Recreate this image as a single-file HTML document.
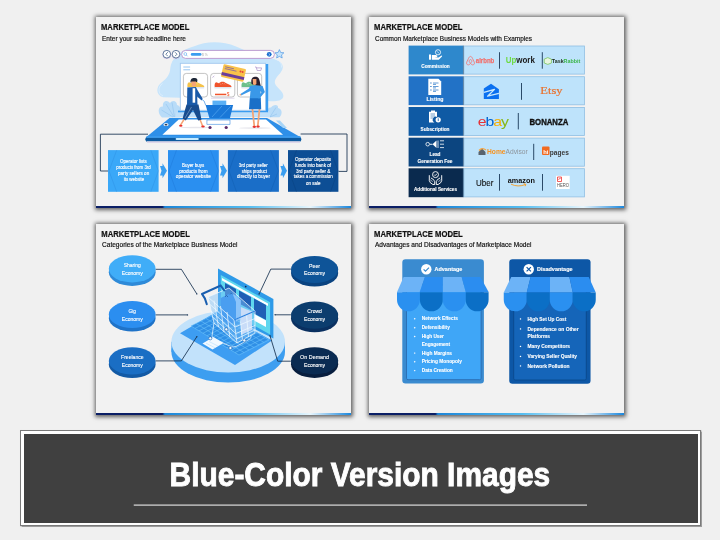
<!DOCTYPE html>
<html><head><meta charset="utf-8">
<style>
html,body{margin:0;padding:0;}
body{width:720px;height:540px;background:#f0f0f0;position:relative;overflow:hidden;font-family:"Liberation Sans",sans-serif;}
.slide{position:absolute;width:255px;height:191px;background:#f2f2f2;box-shadow:0 0 4px 1.5px rgba(0,0,0,0.6);}
#s1{left:96px;top:17px;}
#s2{left:369px;top:17px;}
#s3{left:96px;top:224px;}
#s4{left:369px;top:224px;}
.bar{position:absolute;left:0;bottom:0;height:2px;width:100%;background:linear-gradient(to right,#0b1f66 0%,#0b1f66 26%,#1d86d8 27%,#55bdf0 60%,#e8f6fd 84%,#1a86dc 100%);}
#banner{position:absolute;left:20px;top:430px;width:679px;height:94px;border:1px solid #7a7a7a;background:#fff;box-shadow:0 0 1px 0.5px rgba(0,0,0,0.35);}
#banner .in{position:absolute;left:2.5px;top:2.5px;right:2.5px;bottom:2.5px;background:#404040;}
svg{position:absolute;left:0;top:0;will-change:transform;}
</style></head>
<body>
<div class="slide" id="s1"><div class="bar"></div></div>
<div class="slide" id="s2"><div class="bar"></div></div>
<div class="slide" id="s3"><div class="bar"></div></div>
<div class="slide" id="s4"><div class="bar"></div></div>
<div id="banner"><div class="in"></div></div>
<svg width="720" height="540" viewBox="0 0 720 540" font-family="Liberation Sans, sans-serif">
<!-- titles -->
<g fill="#111" font-weight="bold" font-size="8.2" stroke="#111" stroke-width="0.2">
<text x="101" y="30" textLength="88.4" lengthAdjust="spacingAndGlyphs">MARKETPLACE MODEL</text>
<text x="374" y="30" textLength="88.5" lengthAdjust="spacingAndGlyphs">MARKETPLACE MODEL</text>
<text x="101.3" y="237.2" textLength="88.6" lengthAdjust="spacingAndGlyphs">MARKETPLACE MODEL</text>
<text x="374" y="237" textLength="88.8" lengthAdjust="spacingAndGlyphs">MARKETPLACE MODEL</text>
</g>
<g fill="#111" font-size="6.9" stroke="#111" stroke-width="0.18">
<text x="102" y="40.7" textLength="84" lengthAdjust="spacingAndGlyphs">Enter your sub headline here</text>
<text x="375" y="40.5" textLength="157" lengthAdjust="spacingAndGlyphs">Common Marketplace Business Models with Examples</text>
<text x="102" y="247.2" textLength="135.5" lengthAdjust="spacingAndGlyphs">Categories of the Marketplace Business Model</text>
<text x="375" y="247.2" textLength="156.5" lengthAdjust="spacingAndGlyphs">Advantages and Disadvantages of Marketplace Model</text>
</g>
<!-- SLIDE 2 TABLE -->
<g id="table">
<rect x="408.6" y="45.6" width="54.6" height="28.8" fill="#2e88cc"/>
<rect x="408.6" y="76.3" width="54.6" height="28.8" fill="#2272c6"/>
<rect x="408.6" y="107" width="54.6" height="28.8" fill="#0f5aa4"/>
<rect x="408.6" y="137.7" width="54.6" height="28.8" fill="#0c4580"/>
<rect x="408.6" y="168.3" width="54.6" height="28.9" fill="#0a2a4e"/>
<g fill="#bee3fb" stroke="#8fbfe3" stroke-width="0.8">
<rect x="463.9" y="46" width="120.5" height="28.1"/>
<rect x="463.9" y="76.7" width="120.5" height="28.1"/>
<rect x="463.9" y="107.4" width="120.5" height="28.1"/>
<rect x="463.9" y="138.1" width="120.5" height="28.1"/>
<rect x="463.9" y="168.7" width="120.5" height="28.2"/>
</g>
<g fill="#5f86a8">
<rect x="462.9" y="45.6" width="1" height="28.8"/>
<rect x="462.9" y="76.3" width="1" height="28.8"/>
<rect x="462.9" y="107" width="1" height="28.8"/>
<rect x="462.9" y="137.7" width="1" height="28.8"/>
<rect x="462.9" y="168.3" width="1" height="28.9"/>
</g>
<!-- left labels -->
<g fill="#fff" font-weight="bold" font-size="5.2" text-anchor="middle" stroke="#fff" stroke-width="0.12">
<text x="435.5" y="67.8" textLength="28.5" lengthAdjust="spacingAndGlyphs">Commission</text>
<text x="435" y="101.2" textLength="17" lengthAdjust="spacingAndGlyphs">Listing</text>
<text x="435" y="130.5" textLength="29" lengthAdjust="spacingAndGlyphs">Subscription</text>
<text x="435" y="156" textLength="11" lengthAdjust="spacingAndGlyphs">Lead</text>
<text x="435" y="163.2" textLength="35" lengthAdjust="spacingAndGlyphs">Generation Fee</text>
<text x="435.5" y="191.3" textLength="43" lengthAdjust="spacingAndGlyphs">Additional Services</text>
</g>
<!-- icons -->
<g fill="#fff" stroke="none">
 <!-- commission: hand + coin -->
 <rect x="429" y="54.5" width="2" height="5.2"/>
 <path d="M431.8 55 L436 55 Q438 55.5 437.2 57 L434.5 57.3 L438.5 57.5 L441.5 55.5 Q442.5 55.5 442 56.6 L438.8 59.8 L431.8 59.8 Z"/>
 <circle cx="438" cy="52.3" r="2.6" fill="none" stroke="#fff" stroke-width="0.8"/>
 <path d="M436.6 51.2 l2.8 2.2" stroke="#fff" stroke-width="0.6"/>
 <!-- listing: document -->
 <path d="M428.3 78.8 H438.5 L441.2 81.5 V95 H428.3 Z"/>
 <g stroke="#2272c6" stroke-width="0.7" fill="none">
  <path d="M430 83 h1.8 M430 86.5 h1.8 M430 90 h1.8 M433 83 h5.5 M433 86.5 h5.5 M433 90 h5.5 M433 84.4 h3 M433 87.9 h3 M433 91.4 h3"/>
 </g>
 <!-- subscription: clipboard -->
 <path d="M429 111.8 H431 V110.5 H435 V111.8 H437 V117 A3 3 0 0 0 434.5 122.5 H429 Z"/>
 <circle cx="438.2" cy="119.8" r="2.6"/>
 <rect x="437.8" y="118.3" width="0.8" height="2.8" fill="#0f5aa4"/>
 <g stroke="#0f5aa4" stroke-width="0.6"><path d="M430.5 114 h4.5 M430.5 116 h4.5 M430.5 118 h3"/></g>
 <!-- lead: funnel -->
 <circle cx="427.7" cy="144.2" r="1.8" fill="none" stroke="#fff" stroke-width="0.8"/>
 <rect x="430" y="143.8" width="2.5" height="0.9"/>
 <path d="M432.5 144.2 L436.5 140.5 V148 Z"/>
 <g stroke="#fff" stroke-width="0.8"><path d="M438 140.5 v7.5 M440 140.8 h4 M440 144.2 h4 M440 147.6 h4"/></g>
 <!-- additional services: hands with check -->
 <circle cx="435.5" cy="174.6" r="3" fill="none" stroke="#fff" stroke-width="0.9"/>
 <path d="M434.1 174.6 l1 1 l1.9 -1.9" stroke="#fff" stroke-width="0.9" fill="none"/>
 <g fill="none" stroke="#fff" stroke-width="0.95" stroke-linejoin="round">
 <path d="M429.3 175.2 V180.6 Q429.7 183 432.9 184.5 H434.7 V181.6 Q434.5 180.4 433 179.3 L430.9 177.9"/>
 <path d="M441.7 175.2 V180.6 Q441.3 183 438.1 184.5 H436.3 V181.6 Q436.5 180.4 438 179.3 L440.1 177.9"/>
 <path d="M430.2 179.8 L432.6 181.6 M440.8 179.8 L438.4 181.6" stroke-width="0.6"/>
</g>
</g>
<!-- dividers -->
<g fill="#2b4a68">
<rect x="499" y="52.2" width="1" height="16.5"/>
<rect x="541.8" y="52.2" width="1" height="16.5"/>
<rect x="521" y="83" width="1" height="16.8"/>
<rect x="517.8" y="113" width="1" height="16.4"/>
<rect x="533.2" y="143.8" width="1" height="16.2"/>
<rect x="499" y="174" width="1" height="16.7"/>
<rect x="542" y="174" width="1" height="16.7"/>
</g>
<!-- row1 logos -->
<g fill="none" stroke="#f2716e" stroke-width="0.8">
 <path d="M470.5 56.4 C469.6 56.4 469.1 57.2 468.4 58.6 L466.8 62 C466.1 63.6 466.9 64.9 468.2 64.9 C469.2 64.9 470 64.1 470.5 63.3 C471 64.1 471.8 64.9 472.8 64.9 C474.1 64.9 474.9 63.6 474.2 62 L472.6 58.6 C471.9 57.2 471.4 56.4 470.5 56.4 Z"/>
 <path d="M470.5 63.3 C469.3 62 469 61.3 469.2 60.6 C469.4 59.9 470 59.6 470.5 59.6 C471 59.6 471.6 59.9 471.8 60.6 C472 61.3 471.7 62 470.5 63.3 Z"/>
</g>
<text x="475.8" y="63.2" fill="#f2716e" stroke="#f2716e" stroke-width="0.25" font-weight="bold" font-size="7" textLength="18.5" lengthAdjust="spacingAndGlyphs">airbnb</text>
<text x="505.7" y="63" font-weight="bold" font-size="8.6" textLength="29.2" lengthAdjust="spacingAndGlyphs"><tspan fill="#6fda44">Up</tspan><tspan fill="#1a1a1a">work</tspan></text>
<g>
 <path d="M547.8 57.6 L551.4 59.2 V63 L547.8 64.4 L544.2 63 V59.2 Z" fill="#e8f5e0" stroke="#6cbf4a" stroke-width="0.7"/>
</g>
<text x="551.8" y="62.7" font-weight="bold" font-size="5.4" textLength="28.5" lengthAdjust="spacingAndGlyphs"><tspan fill="#1a2a1a">Task</tspan><tspan fill="#3cb54a">Rabbit</tspan></text>
<!-- row2 logos -->
<path d="M483.8 88.6 L491 83.8 L498.9 89.3 V98.9 H483.8 Z" fill="#0a70f0"/>
<path d="M483.8 92.3 L494.5 89.4 L487.6 96.2 L498.9 93.3" fill="none" stroke="#c8e8fc" stroke-width="1.3" stroke-linejoin="round"/>
<text x="540.3" y="94.3" fill="#e9722e" stroke="#e9722e" stroke-width="0.2" font-family="Liberation Serif, serif" font-size="11" textLength="22.2" lengthAdjust="spacingAndGlyphs">Etsy</text>
<!-- row3 logos -->
<text x="477.7" y="125.5" font-size="12" font-weight="normal" textLength="30.1" lengthAdjust="spacingAndGlyphs" letter-spacing="-0.8"><tspan fill="#e53238">e</tspan><tspan fill="#0064d2">b</tspan><tspan fill="#f5af02">a</tspan><tspan fill="#86b817">y</tspan></text>
<text x="529.5" y="124.6" fill="#111" stroke="#111" stroke-width="0.35" font-weight="bold" font-size="8.4" textLength="38.8" lengthAdjust="spacingAndGlyphs">BONANZA</text>
<!-- row4 logos -->
<path d="M478.5 152 L482 148.5 L485.5 152 V155 H478.5 Z" fill="#58636e"/>
<path d="M479 150.5 Q482 147 486 150" fill="none" stroke="#f7a33c" stroke-width="1.2"/>
<text x="487" y="154" font-weight="bold" font-size="6.6" textLength="40.8" lengthAdjust="spacingAndGlyphs"><tspan fill="#f7921e">Home</tspan><tspan fill="#8d959c" font-weight="normal">Advisor</tspan></text>
<rect x="542" y="146.5" width="7.5" height="8.5" rx="1" fill="#f26b21"/>
<text x="543.2" y="153.5" fill="#fff" font-weight="bold" font-size="6" textLength="5.2" lengthAdjust="spacingAndGlyphs">hi</text>
<text x="549.8" y="154.6" fill="#3a3a3a" font-weight="bold" font-size="7.2" textLength="19" lengthAdjust="spacingAndGlyphs">pages</text>
<!-- row5 logos -->
<text x="476" y="185.5" fill="#111" stroke="#111" stroke-width="0.12" font-size="8.4" textLength="17.4" lengthAdjust="spacingAndGlyphs">Uber</text>
<text x="507.8" y="183" fill="#111" font-weight="bold" font-size="7.3" textLength="27.1" lengthAdjust="spacingAndGlyphs">amazon</text>
<path d="M511 184.2 Q518 187.5 525.5 184.5 M523.8 183.6 L525.8 184.4 L525.2 186.2" fill="none" stroke="#f79b1e" stroke-width="0.9"/>
<rect x="556" y="175.8" width="13.7" height="13.2" fill="#fff"/>
<path d="M557.5 177 h4 v4.5 h-4 Z M558.3 179.5 l2.5 -1.5" fill="none" stroke="#e33" stroke-width="0.8"/>
<text x="557" y="186.8" fill="#555" font-size="4.6" textLength="12" lengthAdjust="spacingAndGlyphs">HERO</text>
</g>

<!-- SLIDE 4 -->
<g id="s4g">

<!-- Advantage card -->
<rect x="402.3" y="259.2" width="81.6" height="124.2" rx="3.2" fill="#3a8bd0"/>
<rect x="406.5" y="285" width="74.6" height="94.7" rx="1.5" fill="#3fa6f7" stroke="#2a6cb0" stroke-width="0.9"/>
<circle cx="426.3" cy="269.2" r="5.2" fill="#fff"/>
<path d="M423.6 269.3 l1.9 1.9 l3.5 -3.6" fill="none" stroke="#3a8bd0" stroke-width="1.2"/>
<text x="434.6" y="271.3" fill="#fff" stroke="#fff" stroke-width="0.15" font-weight="bold" font-size="5.7" textLength="27.8" lengthAdjust="spacingAndGlyphs">Advantage</text>
<!-- awning -->
<path d="M403.6 277 H424.9 L419.7 292.2 H397 Z" fill="#6cb3f7"/>
<path d="M424.9 277 H442.9 V292.2 H419.7 Z" fill="#2b8df0"/>
<path d="M442.9 277 H461.7 L465.8 292.2 H442.9 Z" fill="#6cb3f7"/>
<path d="M461.7 277 H480.4 L488.75 292.2 H465.8 Z" fill="#2b8df0"/>
<path d="M397 292.2 H419.9 V299.8 A11.45 11.45 0 0 1 397 299.8 Z" fill="#2a90f0"/>
<path d="M419.9 292.2 H442.8 V299.8 A11.45 11.45 0 0 1 419.9 299.8 Z" fill="#0b6fc6"/>
<path d="M442.8 292.2 H465.7 V299.8 A11.45 11.45 0 0 1 442.8 299.8 Z" fill="#2a90f0"/>
<path d="M465.7 292.2 H488.6 V299.8 A11.45 11.45 0 0 1 465.7 299.8 Z" fill="#0b6fc6"/>
<g fill="#fff" font-weight="bold" font-size="5.1" stroke="#fff" stroke-width="0.1">
<text x="421.7" y="320.4" textLength="36.3" lengthAdjust="spacingAndGlyphs">Network Effects</text>
<text x="421.7" y="329.3" textLength="28.1" lengthAdjust="spacingAndGlyphs">Defensibility</text>
<text x="421.7" y="338.1" textLength="22.2" lengthAdjust="spacingAndGlyphs">High User</text>
<text x="421.7" y="346" textLength="28.4" lengthAdjust="spacingAndGlyphs">Engagement</text>
<text x="421.7" y="354.7" textLength="30.3" lengthAdjust="spacingAndGlyphs">High Margins</text>
<text x="421.7" y="363.3" textLength="40.3" lengthAdjust="spacingAndGlyphs">Pricing Monopoly</text>
<text x="421.7" y="372.2" textLength="31.1" lengthAdjust="spacingAndGlyphs">Data Creation</text>
<circle cx="414.7" cy="318.8" r="0.7"/><circle cx="414.7" cy="327.7" r="0.7"/><circle cx="414.7" cy="336.5" r="0.7"/>
<circle cx="414.7" cy="353.1" r="0.7"/><circle cx="414.7" cy="361.7" r="0.7"/><circle cx="414.7" cy="370.6" r="0.7"/>
</g>
<!-- Disadvantage card -->
<rect x="509.25" y="259.2" width="81.3" height="124.5" rx="3.2" fill="#0d57a6"/>
<rect x="513.7" y="285" width="72.6" height="95" rx="1.5" fill="#1565b9" stroke="#0a4a8c" stroke-width="0.9"/>
<circle cx="528.75" cy="269.25" r="5.2" fill="#fff"/>
<path d="M526.6 267.1 l4.3 4.3 M530.9 267.1 l-4.3 4.3" fill="none" stroke="#0d57a6" stroke-width="1.2"/>
<text x="537" y="271.3" fill="#fff" stroke="#fff" stroke-width="0.15" font-weight="bold" font-size="5.7" textLength="35.5" lengthAdjust="spacingAndGlyphs">Disadvantage</text>
<path d="M511.25 277 H530.6 L526.75 292.5 H503.75 Z" fill="#6cb3f7"/>
<path d="M530.6 277 H550 V292.5 H526.75 Z" fill="#2b8df0"/>
<path d="M550 277 H569.4 L572.75 292.5 H550 Z" fill="#6cb3f7"/>
<path d="M569.4 277 H588.75 L595.75 292.5 H572.75 Z" fill="#2b8df0"/>
<path d="M503.75 292.5 H526.75 V299.8 A11.5 11.5 0 0 1 503.75 299.8 Z" fill="#2a90f0"/>
<path d="M526.75 292.5 H549.75 V299.8 A11.5 11.5 0 0 1 526.75 299.8 Z" fill="#0b6fc6"/>
<path d="M549.75 292.5 H572.75 V299.8 A11.5 11.5 0 0 1 549.75 299.8 Z" fill="#2a90f0"/>
<path d="M572.75 292.5 H595.75 V299.8 A11.5 11.5 0 0 1 572.75 299.8 Z" fill="#0b6fc6"/>
<g fill="#fff" font-weight="bold" font-size="5.1" stroke="#fff" stroke-width="0.1">
<text x="527.5" y="320.5" textLength="38.8" lengthAdjust="spacingAndGlyphs">High Set Up Cost</text>
<text x="527.5" y="330.5" textLength="51.3" lengthAdjust="spacingAndGlyphs">Dependence on Other</text>
<text x="527.5" y="338" textLength="22.5" lengthAdjust="spacingAndGlyphs">Platforms</text>
<text x="527.5" y="348" textLength="42.5" lengthAdjust="spacingAndGlyphs">Many Competitors</text>
<text x="527.5" y="358" textLength="49.5" lengthAdjust="spacingAndGlyphs">Varying Seller Quality</text>
<text x="527.5" y="367.5" textLength="42" lengthAdjust="spacingAndGlyphs">Network Pollution</text>
<circle cx="520.5" cy="318.9" r="0.7"/><circle cx="520.5" cy="328.9" r="0.7"/><circle cx="520.5" cy="346.4" r="0.7"/>
<circle cx="520.5" cy="356.4" r="0.7"/><circle cx="520.5" cy="365.9" r="0.7"/>
</g>
</g>

<!-- SLIDE 3 -->
<g id="s3g">
<!-- platform disc -->
<ellipse cx="228.2" cy="351.8" rx="56.8" ry="30.8" fill="#3d9ef0"/>
<rect x="171.4" y="341.7" width="113.6" height="10.1" fill="#3d9ef0"/>
<ellipse cx="228.2" cy="341.7" rx="56.8" ry="30.8" fill="#c2e2fb"/>
<!-- laptop base -->
<path d="M180 333.3 L218 311 L272 340.5 L235 365 Z" fill="#3d9df2"/>
<path d="M191 326 L239 355 L268 339 L221 311 Z" fill="#2f8fe6"/>
<path d="M191.0 326.0 L239.0 355.0 M196.0 323.5 L244.0 352.5 M201.0 321.0 L249.0 350.0 M206.0 318.5 L254.0 347.5 M211.0 316.0 L259.0 345.0 M216.0 313.5 L264.0 342.5 M221.0 311.0 L269.0 340.0 M191.0 326.0 L221.0 311.0 M195.0 328.4 L225.0 313.4 M199.0 330.8 L229.0 315.8 M203.0 333.2 L233.0 318.2 M207.0 335.7 L237.0 320.7 M211.0 338.1 L241.0 323.1 M215.0 340.5 L245.0 325.5 M219.0 342.9 L249.0 327.9 M223.0 345.3 L253.0 330.3 M227.0 347.8 L257.0 332.8 M231.0 350.2 L261.0 335.2 M235.0 352.6 L265.0 337.6 M239.0 355.0 L269.0 340.0" stroke="#6ec4fb" stroke-width="0.55" fill="none"/>
<path d="M202.5 343.5 L213.5 337 L223.5 343 L212.5 349.5 Z" fill="#f2f9ff"/>
<path d="M206 343.2 L215 347.8 M209 341.5 L218 346" stroke="#a8d8fa" stroke-width="0.5"/>
<!-- screen -->
<path d="M218 268.4 L273.4 298.9 L273.4 338.5 L218 311 Z" fill="#2e9ae8"/>
<path d="M220.8 274.9 L270.1 302.2 L270.1 334.5 L220.8 307 Z" fill="#5fd6ee"/>
<path d="M222 278 L268 303.5 L268 306 L222 280.5 Z" fill="#fff"/>
<path d="M225 283 L236 289 L236 302 L225 296 Z" fill="#1f5fb5"/>
<path d="M239 290.5 L251 297 L251 310 L239 303.5 Z" fill="#1f5fb5"/>
<path d="M254 298.5 L266 305 L266 320 L254 313.5 Z" fill="#1f5fb5"/>
<path d="M254 314 L266 320.5 L266 327 L254 320.5 Z" fill="#fff"/>
<circle cx="245.7" cy="286.6" r="0.9" fill="#0b2a50"/>
<!-- cart -->
<path d="M229 288 L255 311 L255 333 L237 343 L214 323 L208 297 Z" fill="#7cc0f8" opacity="0.45"/>
<path d="M220.7 298 L232 292.5 L240.8 300 L240.8 319 L229 325 L220.7 318 Z" fill="#4a9ef0"/>
<path d="M232 292.5 L240.8 300 L240.8 319 L236 321.5 L236 302 Z" fill="#8cc4fa"/>
<path d="M240.8 307 L252 311.5 L252 330 L241 335 Z" fill="#c8dcf8"/>
<path d="M225 297 q1.5 -3 3 0 M230 294.5 q1.5 -3 3 0" fill="none" stroke="#1a4f90" stroke-width="0.6"/>
<g stroke="#eef8ff" stroke-width="0.75" fill="none">
<path d="M208 297 L234 320 L255 311 M234 320 L237 343 L255 333 L255 311 M208 297 L214 323 L237 343"/>
<path d="M209.5 304 L235 327 L255 318.5 M211 311 L235.8 333.5 L255 325.5 M212.5 317 L236.5 339 L255 330"/>
<path d="M214 300.5 L218.5 327 M220.5 306 L224 332 M227 312 L229.8 337 M240 317.5 L242.5 340.5 M246.5 314.7 L248.5 337"/>
<path d="M208 297 L229 288 L255 311"/>
<path d="M214 323 L212 336 Q212 339 215 339.5 L231 346.5 Q233 347.5 236 346.5 L249 339.5 Q252 338 251 335"/>
<path d="M226 329 L226.5 331"/>
</g>
<path d="M234 320 L255 311" stroke="#2a80e0" stroke-width="1.2"/>
<path d="M202 294 Q205.5 298 206.8 304.3 M202 294 L220.7 285.6 L224.2 290.4" fill="none" stroke="#1a5fb0" stroke-width="2" stroke-linecap="round"/>
<g fill="#eef8ff" stroke="#1a5fb0" stroke-width="0.6">
<circle cx="210.3" cy="338.3" r="1.6"/>
<circle cx="226.3" cy="329.3" r="1.6"/>
<circle cx="230.4" cy="348" r="1.6"/>
<circle cx="244.3" cy="340.4" r="1.6"/>
</g>
<!-- connectors -->
<g stroke="#15304f" stroke-width="0.85" fill="none">
<path d="M155.5 269.3 H181.4 L196.8 293.9"/>
<path d="M155.5 314.9 H187.5"/>
<path d="M155.5 360.9 H181.3 L196.8 336.7"/>
<path d="M290.9 269.1 H270.8 L259.1 294"/>
<path d="M290.9 314.8 H275.1"/>
<path d="M290.9 361.2 H277.7 L270 335.8"/>
</g>
<g fill="#1d3a5c">
<circle cx="196.8" cy="293.9" r="0.7"/><circle cx="187.5" cy="314.9" r="0.7"/><circle cx="196.8" cy="336.7" r="0.7"/>
<circle cx="259.1" cy="294" r="0.7"/><circle cx="275.1" cy="314.8" r="0.7"/><circle cx="270" cy="335.8" r="0.7"/>
</g>
<!-- ellipses -->
<g>
<ellipse cx="132.2" cy="272.3" rx="23.4" ry="13.6" fill="#2e8ad8"/>
<ellipse cx="132.2" cy="268.8" rx="23.4" ry="13.6" fill="#40adf8"/>
<ellipse cx="132.2" cy="318" rx="23.4" ry="13.6" fill="#1f73c8"/>
<ellipse cx="132.2" cy="314.5" rx="23.4" ry="13.6" fill="#2b8ef0"/>
<ellipse cx="132.2" cy="364.4" rx="23.4" ry="13.6" fill="#135aa5"/>
<ellipse cx="132.2" cy="360.9" rx="23.4" ry="13.6" fill="#1a6ec4"/>
<ellipse cx="314.6" cy="273" rx="23.6" ry="13.6" fill="#0a4380"/>
<ellipse cx="314.6" cy="269.5" rx="23.6" ry="13.6" fill="#0e5498"/>
<ellipse cx="314.6" cy="318.6" rx="23.6" ry="13.6" fill="#0a3060"/>
<ellipse cx="314.6" cy="315.1" rx="23.6" ry="13.6" fill="#0c3d6e"/>
<ellipse cx="314.6" cy="364.3" rx="23.6" ry="13.6" fill="#081e3e"/>
<ellipse cx="314.6" cy="360.8" rx="23.6" ry="13.6" fill="#0a2b52"/>
</g>
<g fill="#fff" font-size="5.3" text-anchor="middle" stroke="#fff" stroke-width="0.12">
<text x="132.3" y="267.2" textLength="17.2" lengthAdjust="spacingAndGlyphs">Sharing</text>
<text x="132.3" y="274.8" textLength="21" lengthAdjust="spacingAndGlyphs">Economy</text>
<text x="132.3" y="313" textLength="7.5" lengthAdjust="spacingAndGlyphs">Gig</text>
<text x="132.3" y="320.6" textLength="21" lengthAdjust="spacingAndGlyphs">Economy</text>
<text x="132.3" y="359.4" textLength="22.5" lengthAdjust="spacingAndGlyphs">Freelance</text>
<text x="132.3" y="367" textLength="21" lengthAdjust="spacingAndGlyphs">Economy</text>
<text x="314.6" y="267.6" textLength="11" lengthAdjust="spacingAndGlyphs">Peer</text>
<text x="314.6" y="275.2" textLength="21" lengthAdjust="spacingAndGlyphs">Economy</text>
<text x="314.6" y="313.2" textLength="14.5" lengthAdjust="spacingAndGlyphs">Crowd</text>
<text x="314.6" y="320.8" textLength="21" lengthAdjust="spacingAndGlyphs">Economy</text>
<text x="314.6" y="358.9" textLength="29" lengthAdjust="spacingAndGlyphs">On Demand</text>
<text x="314.6" y="366.5" textLength="21" lengthAdjust="spacingAndGlyphs">Economy</text>
</g>
</g>

<!-- SLIDE 1 -->
<g id="s1g">
<!-- connector lines -->
<path d="M148 134.2 H100.4 V171 H108" fill="none" stroke="#15304f" stroke-width="0.85"/>
<path d="M300.6 134 H347 V171.4 H338.5" fill="none" stroke="#15304f" stroke-width="0.85"/>
<!-- cloud blob -->
<path d="M180 97.7 L163 97.3 C156 95.5 155.5 87 161.5 82.5 C167.5 78 170 74 170.3 68 C171 59 180 50 195 46 C205 41.5 222 40.5 236 46.5 L262 57.5 C273 57.5 283.5 61 282.8 67.5 C282 74 273.5 77.5 275 83.5 C276.5 88 284.5 91.5 283.2 97 C282 101.5 274 101.5 268 101 Z" fill="#c6e4fb"/>
<path d="M163 96 C158 94 157.5 87 162.5 83.5 M272 58 C279 59 282 63 281.5 67.5" fill="none" stroke="#e2f1fd" stroke-width="0.7"/>
<!-- plants -->
<path d="M162 117.4 C157 113 158 106 163 106.5 C162 101 167 99 170 103 C172 99.5 177 100.5 177 105 C181 106 182 112 180 117.4 Z" fill="#b9dcf8"/>
<path d="M166 104 L174 117 M172 102.5 L174.5 117 M161.5 110 L173 117" stroke="#86bbea" stroke-width="0.45" fill="none"/>
<path d="M268.5 117.2 C266.5 112 267.5 106.5 271 107.5 C273 104 279 104 278 108 C282 108.5 283 114 279.5 117.2 Z" fill="#b9dcf8"/>
<path d="M270 117 L276 107.5 M270 117 L277 114" stroke="#86bbea" stroke-width="0.45" fill="none"/>
<!-- screen stand strips -->
<rect x="178" y="110.6" width="90" height="2" fill="#3a9cf0"/>
<rect x="176" y="112.5" width="94" height="4.5" fill="#c0e0fa"/>
<!-- monitor -->
<rect x="265" y="64" width="3.2" height="47" fill="#3a9cf0"/>
<rect x="180.3" y="63.3" width="85.2" height="47" fill="#fff" stroke="#a3c8ee" stroke-width="0.9"/>
<path d="M183.3 67 h6.8 M183.3 69.8 h6.8" stroke="#8cc0f0" stroke-width="0.9"/>
<path d="M255 67 h1.2 l1 3.5 h3.6 l0.8 -2.6 h-5" fill="none" stroke="#9a7ac0" stroke-width="0.6"/>
<g fill="#fff" stroke="#9a9a9a" stroke-width="0.6">
<rect x="183.4" y="73.4" width="24.2" height="23.6" rx="3"/>
<rect x="210.6" y="73.4" width="24.2" height="23.6" rx="3"/>
<rect x="237.4" y="73.4" width="24.3" height="23.6" rx="3"/>
</g>
<path d="M211 98.2 H234.5" stroke="#c8b8dc" stroke-width="0.6"/>
<!-- shoes -->
<g transform="translate(-27.2 0)"><rect x="214.3" y="86.8" width="17.2" height="1.6" rx="0.6" fill="#dfe6ee"/>
<path d="M214.7 87 C214.4 84.5 214.8 82.6 216.3 82.3 L218.8 83.3 C220.6 81.2 223.8 81.2 225.8 83 C227.8 84.2 230.6 84.6 231.5 86.2 L231.3 87 Z" fill="#f5c24a"/>
<path d="M220 83.5 l1 1.2 M222 83 l1 1.2 M224 83.2 l1 1.2" stroke="#fff" stroke-width="0.35"/></g>
<g transform="translate(0 0)"><rect x="214.3" y="86.8" width="17.2" height="1.6" rx="0.6" fill="#dfe6ee"/>
<path d="M214.7 87 C214.4 84.5 214.8 82.6 216.3 82.3 L218.8 83.3 C220.6 81.2 223.8 81.2 225.8 83 C227.8 84.2 230.6 84.6 231.5 86.2 L231.3 87 Z" fill="#f0542c"/>
<path d="M220 83.5 l1 1.2 M222 83 l1 1.2 M224 83.2 l1 1.2" stroke="#fff" stroke-width="0.35"/></g>
<g transform="translate(26.9 0)"><rect x="214.3" y="86.8" width="17.2" height="1.6" rx="0.6" fill="#dfe6ee"/>
<path d="M214.7 87 C214.4 84.5 214.8 82.6 216.3 82.3 L218.8 83.3 C220.6 81.2 223.8 81.2 225.8 83 C227.8 84.2 230.6 84.6 231.5 86.2 L231.3 87 Z" fill="#6cc08c"/>
<path d="M220 83.5 l1 1.2 M222 83 l1 1.2 M224 83.2 l1 1.2" stroke="#fff" stroke-width="0.35"/></g>
<rect x="215" y="93.7" width="11.3" height="1.5" fill="#f0542c"/>
<text x="226.8" y="96" fill="#f0542c" font-size="4.8">$</text>
<path d="M212.5 77.5 l1.8 -1.6 M212.8 76 h0.1 M214.2 77.6 h0.1" stroke="#8a6ab8" stroke-width="0.5"/>
<!-- credit card -->
<g transform="rotate(13 233.5 73)">
<rect x="222" y="66.5" width="23" height="13" rx="1" fill="#f8c24a"/>
<rect x="222" y="74.6" width="23" height="3" fill="#6a3d9a"/>
<path d="M224 68.8 h9 M224 70.6 h12" stroke="#7a5aa8" stroke-width="0.7"/>
<circle cx="240" cy="70" r="1" fill="#e8423a"/><circle cx="242.2" cy="70" r="1" fill="#e8423a"/>
</g>
<!-- nav -->
<circle cx="166.8" cy="54.6" r="4" fill="#fff" stroke="#b9a0d6" stroke-width="0.7"/>
<circle cx="166.8" cy="54.2" r="3.8" fill="#fff" stroke="#2a4f78" stroke-width="0.7"/>
<path d="M167.8 52.2 l-2 2 l2 2" fill="none" stroke="#2a4f78" stroke-width="0.7"/>
<circle cx="176" cy="54.6" r="4" fill="#fff" stroke="#b9a0d6" stroke-width="0.7"/>
<circle cx="176" cy="54.2" r="3.8" fill="#fff" stroke="#2a4f78" stroke-width="0.7"/>
<path d="M175 52.2 l2 2 l-2 2" fill="none" stroke="#2a4f78" stroke-width="0.7"/>
<rect x="181.6" y="50.4" width="92.8" height="8" rx="4" fill="#fff" stroke="#b592cc" stroke-width="0.9"/>
<circle cx="185.3" cy="54" r="1.4" fill="none" stroke="#5aa8f0" stroke-width="0.6"/>
<path d="M186.3 55 l1.3 1.3" stroke="#5aa8f0" stroke-width="0.6"/>
<rect x="190.8" y="53.1" width="10.7" height="2.6" rx="1.3" fill="#3a9cf0"/>
<text x="202" y="56" fill="#aaa" font-size="3.4">$ %</text>
<circle cx="269.2" cy="54.3" r="2.4" fill="#1a6fd0"/>
<path d="M268.6 53.4 l1.4 1.2 l-1.4 1" fill="none" stroke="#fff" stroke-width="0.5"/>
<path d="M279.4 49.6 L280.7 52.5 L283.9 52.8 L281.5 54.9 L282.2 58 L279.4 56.4 L276.6 58 L277.3 54.9 L274.9 52.8 L278.1 52.5 Z" fill="#c6e4fb" stroke="#3a8ce0" stroke-width="0.6"/>
<!-- laptop -->
<path d="M169.5 117.9 H267 L300.6 137.3 H146.1 Z" fill="#2e8fe8"/>
<path d="M178.7 119.4 H266 L283 134.8 H162.4 Z" fill="#fff"/>
<path d="M146.1 137.3 H300.6 Q302 139.3 300.6 141.4 H146.1 Q144.6 139.3 146.1 137.3 Z" fill="#0d5aa0"/>
<rect x="146.5" y="136.2" width="154" height="1.6" fill="#3a9cf0"/>
<rect x="175.6" y="138" width="23.2" height="2" rx="1" fill="#c8ecff"/>
<rect x="147" y="141.4" width="153" height="1.5" fill="#ddd4ea"/>
<path d="M276 120.4 L280 120.4 L287 128 L283 128 Z" fill="#a6d4f7"/>
<ellipse cx="166" cy="124.7" rx="2.6" ry="1.4" fill="#fff"/>
<ellipse cx="166" cy="124.8" rx="1.5" ry="0.8" fill="#1a2a40"/>
<ellipse cx="196" cy="127.5" rx="16" ry="0.8" fill="#e6e6ec"/>
<ellipse cx="255" cy="128" rx="16" ry="0.8" fill="#e6e6ec"/>
<!-- cart -->
<path d="M201.9 99.4 Q204.5 100 205.6 105" fill="none" stroke="#3a8ce0" stroke-width="0.7"/>
<rect x="212.5" y="100.6" width="13.75" height="4.6" fill="#5ab0f5"/>
<path d="M205.6 105 H233.1 L230 118.1 H209.4 Z" fill="#1a78d8"/>
<path d="M212 117 L222 106 M220 117.5 L231 106" stroke="#6ab8f8" stroke-width="0.5"/>
<path d="M206.9 120 H230 V124.4 H206.9 Z" fill="none" stroke="#3a8ce0" stroke-width="0.6" rx="2"/>
<circle cx="210" cy="127.5" r="1.6" fill="#5a2a6a"/>
<circle cx="226.2" cy="127.5" r="1.6" fill="#5a2a6a"/>
<!-- man -->
<path d="M184 119.5 L180.5 125.2" stroke="#f5a575" stroke-width="1.5" stroke-linecap="round"/>
<path d="M199.8 119 L202.6 126" stroke="#f5a575" stroke-width="1.5" stroke-linecap="round"/>
<path d="M186.5 104.5 H198.5 L201.5 119.8 L198.2 120.5 L193 110 L185.8 120.5 L182.6 118.6 Z" fill="#184c8e"/>
<path d="M185 118 L191.5 107" stroke="#e6f0fa" stroke-width="0.35"/>
<path d="M187.3 87.4 L195.9 87 L198 91 L202.6 98.4 L201.6 100.4 L197.2 96.6 L197.5 105.2 H187 Z" fill="#1a5aa8"/>
<rect x="192.6" y="88.2" width="2.6" height="14.5" fill="#fff"/>
<path d="M190.5 82.5 C190 78.5 193 77.5 196 78.3 C197.5 78.8 197.8 80.8 197 82 Z" fill="#1e2838"/>
<path d="M191.2 81.5 H196 V85.5 Q194.5 87 192 86.2 Z" fill="#f5a575"/>
<ellipse cx="180.8" cy="125.7" rx="1.7" ry="1" fill="#e8322e"/>
<ellipse cx="203" cy="126.5" rx="1.8" ry="1" fill="#e8322e"/>
<!-- woman -->
<path d="M251.5 84 C250.5 78 253 76.5 256.5 76.8 C260 77.5 259.5 82 261 86.5 L257 86 Z" fill="#2a2030"/>
<path d="M252.7 79 H256.4 V84 Q255 85.5 253 84.5 Z" fill="#f5a575"/>
<path d="M252.4 109 L254.3 126 M259.5 109 L257.8 126" stroke="#f5a575" stroke-width="1.8" stroke-linecap="round"/>
<path d="M249.8 98 H260.8 L261.2 109.3 H249 Z" fill="#1a70c8"/>
<path d="M250 86 Q255 84.5 262.6 86 L264.9 92 L259 99 L257.8 97.5 L261.5 92.5 L260.5 91 L260.8 98.2 H249.8 L250.5 91 L241 95.5 L240.4 94 L249 88.5 Z" fill="#3a98e8"/>
<ellipse cx="240.4" cy="94.8" rx="0.9" ry="0.8" fill="#f5a575"/>
<ellipse cx="254.3" cy="126.8" rx="1.8" ry="1.1" fill="#e8322e"/>
<ellipse cx="258" cy="126.6" rx="1.8" ry="1.1" fill="#e8322e"/>
<!-- boxes -->
<rect x="108" y="150.1" width="50.6" height="41.7" fill="#3aa8f8"/>
<rect x="168" y="150.1" width="50.8" height="41.7" fill="#2a8ff0"/>
<rect x="227.9" y="150.1" width="51" height="41.7" fill="#1a6ec8"/>
<rect x="288" y="150.1" width="50.4" height="41.7" fill="#0d4e95"/>
<g fill="none" stroke-width="0.5" opacity="0.7">
<path d="M116.7 150.1 L109 170.9 L116.7 191.8 M150.8 150.1 L158.4 170.9 L150.8 191.8" stroke="#2a88dc"/>
<path d="M176.5 150.1 L169 170.9 L176.5 191.8 M210.5 150.1 L218.5 170.9 L210.5 191.8" stroke="#1a70d0"/>
<path d="M236.5 150.1 L229 170.9 L236.5 191.8 M270.5 150.1 L278.5 170.9 L270.5 191.8" stroke="#0f58a8"/>
<path d="M296.5 150.1 L289 170.9 L296.5 191.8 M330.5 150.1 L338 170.9 L330.5 191.8" stroke="#083d78"/>
</g>
<g fill="#3a9ef0">
<path d="M160 166 H162.5 V163.3 L167 170.8 L162.5 178.3 V175.6 H160 L161.5 170.8 Z"/>
<path d="M220 166 H222.5 V163.3 L227 170.8 L222.5 178.3 V175.6 H220 L221.5 170.8 Z"/>
<path d="M280.4 166 H282.9 V163.3 L287 170.8 L282.9 178.3 V175.6 H280.4 L281.9 170.8 Z"/>
</g>
<g fill="#fff" font-size="5" text-anchor="middle" stroke="#fff" stroke-width="0.15">
<text x="133.4" y="163.3" textLength="26.7" lengthAdjust="spacingAndGlyphs">Operator lists</text>
<text x="133.5" y="169.2" textLength="34.5" lengthAdjust="spacingAndGlyphs">products from 3rd</text>
<text x="133.6" y="175" textLength="31.2" lengthAdjust="spacingAndGlyphs">party sellers on</text>
<text x="134" y="181.3" textLength="20.5" lengthAdjust="spacingAndGlyphs">its website</text>
<text x="193.1" y="166.7" textLength="22.2" lengthAdjust="spacingAndGlyphs">Buyer buys</text>
<text x="193.4" y="172.5" textLength="28.3" lengthAdjust="spacingAndGlyphs">products from</text>
<text x="193.3" y="178.3" textLength="35" lengthAdjust="spacingAndGlyphs">operator website</text>
<text x="253.2" y="166.7" textLength="29" lengthAdjust="spacingAndGlyphs">3rd party seller</text>
<text x="254.3" y="172.8" textLength="25.2" lengthAdjust="spacingAndGlyphs">ships product</text>
<text x="253.5" y="178.3" textLength="33" lengthAdjust="spacingAndGlyphs">directly to buyer</text>
<text x="313" y="160.6" textLength="36" lengthAdjust="spacingAndGlyphs">Operator deposits</text>
<text x="313" y="166.7" textLength="36" lengthAdjust="spacingAndGlyphs">funds into bank of</text>
<text x="313.1" y="172.8" textLength="34.2" lengthAdjust="spacingAndGlyphs">3rd party seller &amp;</text>
<text x="313.3" y="178.3" textLength="39" lengthAdjust="spacingAndGlyphs">takes a commission</text>
<text x="313.2" y="184.6" textLength="14.3" lengthAdjust="spacingAndGlyphs">on sale</text>
</g>
</g>

<!-- banner text -->
<text x="169.6" y="486" fill="#fff" stroke="#fff" stroke-width="0.9" font-weight="bold" font-size="33.5" textLength="380.6" lengthAdjust="spacingAndGlyphs">Blue-Color Version Images</text>
<rect x="133.75" y="504.5" width="453.25" height="1.2" fill="#dcdcdc"/>
</svg>
</body></html>
